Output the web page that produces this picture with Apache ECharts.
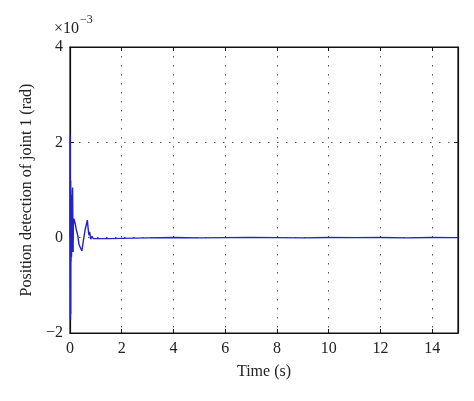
<!DOCTYPE html>
<html><head><meta charset="utf-8">
<script src="https://cdn.jsdelivr.net/npm/echarts@6/dist/echarts.min.js"></script>
<style>html,body{margin:0;padding:0;background:#fff}#c{width:474px;height:401px}</style>
</head><body><div id="c"></div>
<script>
const times = [0, 0.01, 0.02, 0.025, 0.03, 0.035, 0.04, 0.05, 0.06, 0.07, 0.08, 0.09, 0.1, 0.11, 0.12, 0.13, 0.15, 0.2, 0.25, 0.3, 0.35, 0.4, 0.46, 0.52, 0.58, 0.62, 0.67, 0.7, 0.73, 0.76, 0.8, 0.85, 0.9, 1.0, 1.5, 2, 3, 4, 5, 6, 7, 8, 9, 10, 11, 12, 13, 14, 14.8, 15];
const values = [0, 2.15, -1.72, 1.2, -1.6, 0.9, -0.5, 0.7, -0.4, 0.85, -0.3, 0.95, 1.05, 0.3, -0.3, 0.25, 0.4, 0.3, 0.15, 0.05, -0.15, -0.12, -0.28, -0.05, 0.15, 0.25, 0.37, 0.2, 0.05, 0.12, -0.03, 0.03, -0.02, -0.02, -0.02, -0.015, -0.005, 0.005, -0.005, 0, 0.005, 0, -0.005, 0.005, 0, 0.005, -0.005, 0.005, 0, 0];
const xTicks = [0, 2, 4, 6, 8, 10, 12, 14];
const yTicks = [-2, 0, 2, 4];

const font = '"Liberation Serif", "DejaVu Serif", serif';
const chart = echarts.init(document.getElementById('c'));
const dotted = {show: true, lineStyle: {color: '#555', type: [1.5, 7.5], width: 1}};
chart.setOption({
  animation: false,
  backgroundColor: '#fff',
  grid: {left: 70, right: 16, top: 47, bottom: 68, show: true, borderColor: '#111', borderWidth: 1.2, backgroundColor: 'transparent'},
  graphic: [{
    type: 'text', left: 54, top: 14,
    style: {text: '{a|×10}{b|−3}', rich: {a: {fontFamily: font, fontSize: 16, fill: '#222', verticalAlign: 'bottom'}, b: {fontFamily: font, fontSize: 12, fill: '#222', verticalAlign: 'top', padding: [0, 0, 11, 1]}}}
  }],
  xAxis: [{
    type: 'value', min: 0, max: 15, interval: 2,
    name: 'Time (s)', nameLocation: 'middle', nameGap: 31,
    nameTextStyle: {fontFamily: font, fontSize: 16, color: '#222'},
    axisLine: {show: true, onZero: false, lineStyle: {color: '#111', width: 1.2}},
    axisTick: {show: true, inside: true, length: 4, lineStyle: {color: '#111'}},
    axisLabel: {fontFamily: font, fontSize: 16, color: '#222', margin: 8, showMaxLabel: false,
      formatter: v => xTicks.includes(v) ? String(v) : ''},
    splitLine: dotted
  }, {
    type: 'value', min: 0, max: 15, interval: 2, position: 'top',
    axisLine: {show: true, onZero: false, lineStyle: {color: '#111', width: 1.2}},
    axisTick: {show: true, inside: true, length: 4, lineStyle: {color: '#111'}},
    axisLabel: {show: false}, splitLine: {show: false}
  }],
  yAxis: [{
    type: 'value', min: -2, max: 4, interval: 2,
    name: 'Position detection of joint 1 (rad)', nameLocation: 'middle', nameGap: 35, nameRotate: 90,
    nameTextStyle: {fontFamily: font, fontSize: 16, color: '#222'},
    axisLine: {show: true, onZero: false, lineStyle: {color: '#111', width: 1.2}},
    axisTick: {show: true, inside: true, length: 4, lineStyle: {color: '#111'}},
    axisLabel: {fontFamily: font, fontSize: 16, color: '#222', margin: 7,
      formatter: v => yTicks.includes(v) ? (v < 0 ? '−' + Math.abs(v) : String(v)) : ''},
    splitLine: dotted
  }, {
    type: 'value', min: -2, max: 4, interval: 2, position: 'right',
    axisLine: {show: true, onZero: false, lineStyle: {color: '#111', width: 1.2}},
    axisTick: {show: true, inside: true, length: 4, lineStyle: {color: '#111'}},
    axisLabel: {show: false}, splitLine: {show: false}
  }],
  series: [{
    type: 'line', xAxisIndex: 0, yAxisIndex: 0, showSymbol: false, symbol: 'none',
    lineStyle: {color: '#2222cc', width: 1.4},
    data: times.map((t, i) => [t, values[i]])
  }]
});
</script></body></html>
